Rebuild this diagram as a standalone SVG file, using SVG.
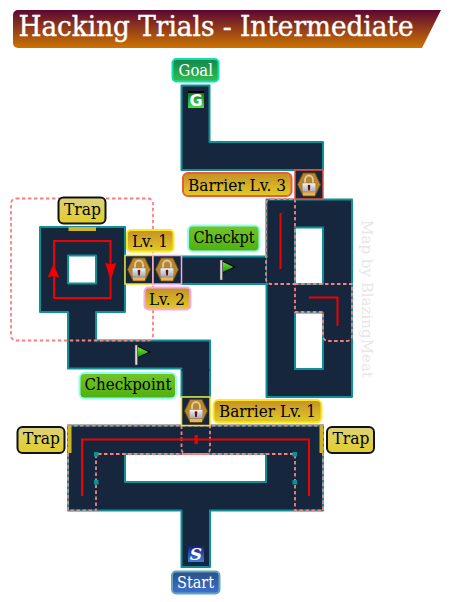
<svg xmlns="http://www.w3.org/2000/svg" width="452" height="602" viewBox="0 0 452 602">
<style>
.map{fill:#16263c;stroke:#0e9196;stroke-width:2;stroke-linejoin:round}
.zone{fill:none;stroke:#f98080;stroke-width:1.800;stroke-dasharray:3.500 2.500}
.red{fill:none;stroke:#f00000;stroke-width:2}
.lbl{font-family:"DejaVu Serif Condensed","DejaVu Serif",serif;font-size:17.500px;fill:#000}
.wht{fill:#fff}
.box{stroke-width:2}
.bar{fill:#d0b428}
.sq{fill:#0e9196}
</style>
<defs>
<linearGradient id="ban" x1="0" y1="0" x2="0" y2="1"><stop offset="0" stop-color="#5c0632"/><stop offset="1" stop-color="#cc7400"/></linearGradient>
<linearGradient id="gold" x1="0" y1="0" x2="0" y2="1"><stop offset="0" stop-color="#c49024"/><stop offset="1" stop-color="#e2cc28"/></linearGradient>
<linearGradient id="trap" x1="0" y1="0" x2="0" y2="1"><stop offset="0" stop-color="#dcd27c"/><stop offset="1" stop-color="#e2ce28"/></linearGradient>
<linearGradient id="grn" x1="0" y1="0" x2="0" y2="1"><stop offset="0" stop-color="#74c428"/><stop offset="1" stop-color="#50b010"/></linearGradient>
<linearGradient id="goal" x1="0" y1="0" x2="0" y2="1"><stop offset="0" stop-color="#14864a"/><stop offset="1" stop-color="#34bc50"/></linearGradient>
<linearGradient id="st" x1="0" y1="0" x2="0" y2="1"><stop offset="0" stop-color="#2c5088"/><stop offset="1" stop-color="#3c70d0"/></linearGradient>
<linearGradient id="gi" x1="0" y1="0" x2="0" y2="1"><stop offset="0" stop-color="#0c7a28"/><stop offset="1" stop-color="#48e048"/></linearGradient>
<linearGradient id="si" x1="0" y1="0" x2="0" y2="1"><stop offset="0" stop-color="#101c70"/><stop offset="1" stop-color="#3c80e0"/></linearGradient>
<linearGradient id="shk" x1="0" y1="0" x2="0" y2="1"><stop offset="0" stop-color="#f4f4f4"/><stop offset="1" stop-color="#a8a8a8"/></linearGradient>
<linearGradient id="fl" x1="0" y1="0" x2="0" y2="1"><stop offset="0" stop-color="#7ce02c"/><stop offset="1" stop-color="#129a1c"/></linearGradient>
<g id="lock">
<polygon points="-11.500,0 -6,-11.500 6,-11.500 11.500,0 6,11.500 -6,11.500" fill="#b9862e" stroke="#6c4812" stroke-width="1"/>
<rect x="-6" y="7.500" width="12" height="3.500" fill="#e8b454"/>
<path d="M-4,-1v-3.500a4,4.500 0 0 1 8,0v3.500" fill="none" stroke="#e0cca0" stroke-width="1.800"/>
<rect x="-6.800" y="-1.500" width="13.600" height="9" rx="1" fill="url(#shk)" stroke="#666" stroke-width=".4"/>
<path d="M-1.300,1.500a1.300,1.300 0 1 1 2.600,0l-.5,4.500h-1.600z" fill="#5c1020"/>
</g>
<g id="flag">
<rect x="-1" y="-10" width="2.500" height="20" fill="#d8d8d8" stroke="#444" stroke-width=".5"/>
<polygon points="2,-9 15,-3 2,3" fill="#000"/>
<polygon points="2,-8 12.500,-3 2,2" fill="url(#fl)"/>
</g>
</defs>
<g id="title">
<path d="M18,10H441L422,48H18a5,5 0 0 1-5-5V15a5,5 0 0 1 5-5z" fill="url(#ban)"/>
<text x="18.500" y="35.500" font-family="DejaVu Serif Condensed,DejaVu Serif,serif" font-size="27.500" fill="#fff" stroke="#fff" stroke-width=".4" textLength="395" lengthAdjust="spacingAndGlyphs">Hacking Trials - Intermediate</text>
</g>
<g id="map">
<path class="map" d="M181.500,85.500H209.500V142H323V170H181.500Z"/>
<path class="map" fill-rule="evenodd" d="M266.500,199.500H352V397H266.500ZM295,227.500V284H323V227.500ZM295,312.500V369H323V312.500Z"/>
<path class="map" d="M181,256.500H267V284H181Z"/>
<path class="map" fill-rule="evenodd" d="M40,227H125V312H96V340.500H210V397H181.500V368.500H68V312H40ZM68,255.500V283.500H96V255.500Z"/>
<path class="map" fill-rule="evenodd" d="M68,425.500H323V510.500H210V567H181.500V510.500H68ZM125,454V482H266V454Z"/>
<rect x="125" y="256" width="57" height="28" fill="#16263c"/>
<rect x="267" y="257.500" width="2" height="25.500" fill="#16263c"/>
<rect x="181.500" y="369" width="28" height="2" fill="#16263c"/>
</g>
<g id="zones">
<rect class="zone" x="11" y="198.500" width="142" height="142" rx="5"/>
<path class="zone" d="M271,199H295V284H271a5,5 0 0 1-5-5V204a5,5 0 0 1 5-5z"/>
<path class="zone" d="M295,284H352V336a5,5 0 0 1-5,5H328a5,5 0 0 1-5-5V312H295Z"/>
<path class="zone" d="M68,425.500H323V510.500H295V454H96V510.500H68Z"/>
<path class="zone" d="M181.500,425.500V449a5,5 0 0 0 5,5H205a5,5 0 0 0 5-5V425.500"/>
</g>
<g id="connectors">
<path class="red" d="M54,241H110.500V298H54Z"/>
<polygon points="53.500,264 47.700,277.500 53.500,276 59.300,277.500" fill="#f00000"/>
<polygon points="110.700,280 105,262.700 110.700,264.500 116.400,262.700" fill="#f00000"/>
<path class="red" d="M280.500,213V269"/>
<path class="red" d="M309,297.500H337.500V326"/>
<path class="red" d="M82,496V439.500H309V496"/>
<rect x="194.500" y="435" width="3.300" height="9" fill="#f00000"/>
</g>
<g id="markers">
<rect class="bar" x="68.500" y="227" width="27.500" height="4"/>
<rect class="bar" x="68" y="426" width="3.500" height="27"/>
<rect class="bar" x="319.500" y="426" width="3.500" height="27"/>
<rect class="sq" x="94" y="452" width="4.500" height="4.500"/>
<rect class="sq" x="94" y="480" width="4.500" height="4.500"/>
<rect class="sq" x="292.500" y="452" width="4.500" height="4.500"/>
<rect class="sq" x="292.500" y="480" width="4.500" height="4.500"/>
</g>
<g id="lock3"><rect x="295" y="170" width="28" height="29" fill="#16263c" stroke="#e85040" stroke-width="1.500"/><use href="#lock" x="309" y="184.500"/></g>
<g id="lock1a"><rect x="125" y="255.500" width="28" height="28.500" fill="#16263c" stroke="#f8dc20" stroke-width="1.500"/><use href="#lock" x="139" y="269.500"/></g>
<g id="lock2"><rect x="153" y="255.500" width="28.500" height="28.500" fill="#16263c" stroke="#f4a8e8" stroke-width="1.500"/><use href="#lock" x="167" y="269.500"/></g>
<g id="lockb1"><rect x="181.500" y="397" width="28.500" height="28.500" fill="#16263c" stroke="#f8dc20" stroke-width="1.500"/><use href="#lock" x="196" y="411"/></g>
<g id="flag1"><use href="#flag" x="221" y="270"/></g>
<g id="flag2"><use href="#flag" x="136" y="355"/></g>
<g id="goalIcon"><rect x="188" y="91" width="16" height="17" fill="#000"/><rect x="188" y="93" width="16" height="15" fill="url(#gi)"/><text x="196" y="106" font-family="DejaVu Sans,sans-serif" font-weight="bold" font-size="16" fill="#fff" text-anchor="middle">G</text></g>
<g id="startIcon"><rect x="188" y="545" width="16" height="17" fill="url(#si)"/><text x="196" y="560" font-family="DejaVu Serif,serif" font-weight="bold" font-style="italic" font-size="17" fill="#fff" text-anchor="middle">S</text></g>
<g id="goalLabel"><rect class="box" x="172.500" y="59" width="46" height="22.500" rx="4" fill="url(#goal)" stroke="#10e0b0"/><text class="lbl wht" x="178.500" y="76" textLength="34.500" lengthAdjust="spacingAndGlyphs">Goal</text></g>
<g id="b3"><rect class="box" x="183" y="173" width="108.500" height="23" rx="5" fill="url(#gold)" stroke="#f05840"/><text class="lbl" x="188" y="190.500" textLength="98" lengthAdjust="spacingAndGlyphs">Barrier Lv. 3</text></g>
<g id="trapTop"><rect class="box" x="58.500" y="197.500" width="47" height="26" rx="5" fill="url(#trap)" stroke="#111"/><text class="lbl" x="64" y="214.500" textLength="37" lengthAdjust="spacingAndGlyphs">Trap</text></g>
<g id="lv1"><rect class="box" x="127" y="230" width="46.500" height="21.500" rx="4" fill="url(#gold)" stroke="#ffe820"/><text class="lbl" x="132" y="246.500" textLength="36" lengthAdjust="spacingAndGlyphs">Lv. 1</text></g>
<g id="lv2"><rect class="box" x="144.500" y="287.500" width="46" height="22" rx="4" fill="url(#gold)" stroke="#f8a8f0"/><text class="lbl" x="149" y="304.500" textLength="36" lengthAdjust="spacingAndGlyphs">Lv. 2</text></g>
<g id="ckpt"><rect class="box" x="188" y="225.500" width="71.500" height="26" rx="5" fill="url(#grn)" stroke="#90fff0"/><text class="lbl" x="193.500" y="242.500" textLength="61" lengthAdjust="spacingAndGlyphs">Checkpt</text></g>
<g id="ckpoint"><rect class="box" x="79.500" y="373" width="96.500" height="25.500" rx="5" fill="url(#grn)" stroke="#90fff0"/><text class="lbl" x="84.500" y="390" textLength="87" lengthAdjust="spacingAndGlyphs">Checkpoint</text></g>
<g id="b1"><rect class="box" x="213.500" y="400" width="108" height="22.500" rx="5" fill="url(#gold)" stroke="#ffe820"/><text class="lbl" x="219" y="417" textLength="97" lengthAdjust="spacingAndGlyphs">Barrier Lv. 1</text></g>
<g id="trapL"><rect class="box" x="17.500" y="427" width="47" height="26" rx="5" fill="url(#trap)" stroke="#111"/><text class="lbl" x="23" y="443.500" textLength="37" lengthAdjust="spacingAndGlyphs">Trap</text></g>
<g id="trapR"><rect class="box" x="327" y="427" width="47" height="26" rx="5" fill="url(#trap)" stroke="#111"/><text class="lbl" x="332.500" y="443.500" textLength="37" lengthAdjust="spacingAndGlyphs">Trap</text></g>
<g id="startLabel"><rect class="box" x="172" y="571.500" width="47.500" height="22" rx="4" fill="url(#st)" stroke="#60a8b8"/><text class="lbl wht" x="177" y="588" textLength="37" lengthAdjust="spacingAndGlyphs">Start</text></g>
<text id="credit" transform="translate(362,220) rotate(90)" font-family="DejaVu Serif Condensed,DejaVu Serif,serif" font-size="14.500" fill="#e6e6e6" textLength="158" lengthAdjust="spacingAndGlyphs">Map by BlazingMeat</text>
</svg>
